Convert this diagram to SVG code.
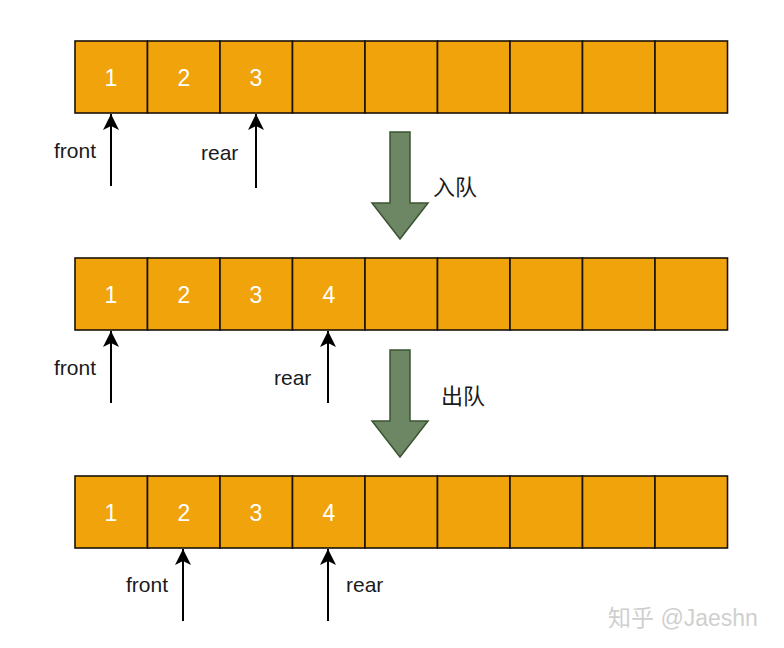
<svg xmlns="http://www.w3.org/2000/svg" width="784" height="648" viewBox="0 0 784 648">
<style>
.cell{fill:#f0a30a;stroke:#1a1208;stroke-width:1.6}
.num{font-family:"Liberation Sans",Arial,sans-serif;font-size:23px;fill:#ffffff;text-anchor:middle}
.lbl{font-family:"Liberation Sans",Arial,sans-serif;font-size:21px;fill:#1a1a1a}
.cjk{font-family:"Liberation Sans","Noto Sans CJK SC",sans-serif;font-size:22px;fill:#1a1a1a}
.ptr{stroke:#000;stroke-width:2;fill:none;marker-end:url(#ah)}
.big{fill:#6d8764;stroke:#3a5431;stroke-width:1.5}
</style>
<defs>
<marker id="ah" viewBox="0 0 16 16" refX="16" refY="8" markerWidth="16" markerHeight="16" markerUnits="userSpaceOnUse" orient="auto">
<path d="M0,0 L16,8 L0,16 L4,8 Z" fill="#000"/>
</marker>
<g id="row">
<rect class="cell" x="75" y="0" width="72.5" height="72"/>
<rect class="cell" x="147.5" y="0" width="72.5" height="72"/>
<rect class="cell" x="220" y="0" width="72.5" height="72"/>
<rect class="cell" x="292.5" y="0" width="72.5" height="72"/>
<rect class="cell" x="365" y="0" width="72.5" height="72"/>
<rect class="cell" x="437.5" y="0" width="72.5" height="72"/>
<rect class="cell" x="510" y="0" width="72.5" height="72"/>
<rect class="cell" x="582.5" y="0" width="72.5" height="72"/>
<rect class="cell" x="655" y="0" width="72.5" height="72"/>
</g>
</defs>
<g id="queue1">
<use href="#row" y="41"/>
<text class="num" x="111" y="86">1</text>
<text class="num" x="184" y="86">2</text>
<text class="num" x="256" y="86">3</text>
</g>
<g id="queue2">
<use href="#row" y="258"/>
<text class="num" x="111" y="303">1</text>
<text class="num" x="184" y="303">2</text>
<text class="num" x="256" y="303">3</text>
<text class="num" x="329" y="303">4</text>
</g>
<g id="queue3">
<use href="#row" y="476"/>
<text class="num" x="111" y="521">1</text>
<text class="num" x="184" y="521">2</text>
<text class="num" x="256" y="521">3</text>
<text class="num" x="329" y="521">4</text>
</g>
<g id="op1">
<path class="big" d="M390,132 L410,132 L410,203 L428,203 L400,239 L372,203 L390,203 Z"/>
<text class="cjk" x="433" y="195">入队</text>
</g>
<g id="op2">
<path class="big" d="M390,350 L410,350 L410,421 L428,421 L400,457 L372,421 L390,421 Z"/>
<text class="cjk" x="441" y="404">出队</text>
</g>
<g id="labels">
<text class="lbl" x="54" y="158">front</text>
<text class="lbl" x="201" y="160">rear</text>
<text class="lbl" x="54" y="375">front</text>
<text class="lbl" x="274" y="385">rear</text>
<text class="lbl" x="126" y="592">front</text>
<text class="lbl" x="346" y="592">rear</text>
</g>
<g id="connectors">
<line class="ptr" x1="111" y1="186" x2="111" y2="114"/>
<line class="ptr" x1="256" y1="188" x2="256" y2="114"/>
<line class="ptr" x1="111" y1="403" x2="111" y2="331"/>
<line class="ptr" x1="328" y1="403" x2="328" y2="331"/>
<line class="ptr" x1="183" y1="621" x2="183" y2="549"/>
<line class="ptr" x1="328" y1="621" x2="328" y2="549"/>
</g>
<text x="608" y="626" style="font-family:'Liberation Sans','Noto Sans CJK SC',sans-serif;font-size:23px;fill:#cfcfcf">知乎 @Jaeshn</text>
</svg>
